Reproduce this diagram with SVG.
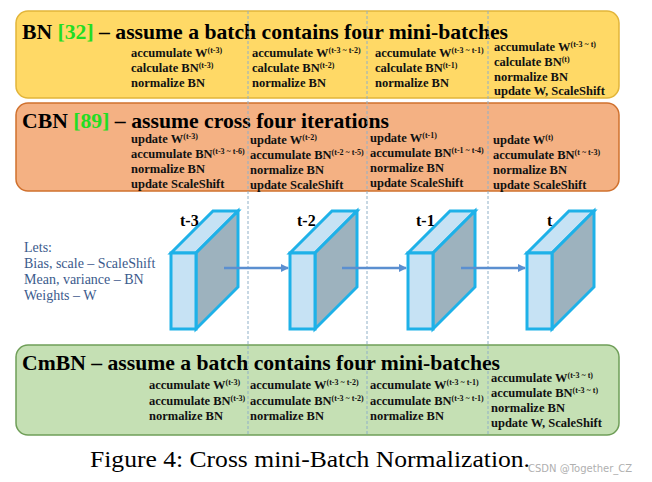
<svg xmlns="http://www.w3.org/2000/svg" width="652" height="482" viewBox="0 0 652 482">
<defs>
<style>
.t{font-family:"Liberation Serif",serif;font-weight:bold;font-size:22px;fill:#000}
.g{fill:#22dd22}
.c{font-family:"Liberation Serif",serif;font-weight:bold;font-size:12.5px;fill:#111}
.s{font-size:8px}
.l{font-family:"Liberation Serif",serif;font-size:14px;fill:#3b5a8c}
.f{fill:#c6e2f4;stroke:#1eb1e8;stroke-width:3;stroke-linejoin:miter}
.sd{fill:#9db2be;stroke:#1eb1e8;stroke-width:3}
.dl{stroke:#8fb0c8;stroke-width:1;stroke-dasharray:3,2}
.ar{stroke:#5b8fd0;stroke-width:2.5}
.lab{font-family:"Liberation Serif",serif;font-weight:bold;font-size:16px}
</style>
<marker id="ah" markerWidth="8" markerHeight="8" refX="7" refY="4" orient="auto" markerUnits="userSpaceOnUse"><path d="M0,0 L8,4 L0,8 z" fill="#5b8fd0"/></marker>
</defs>
<rect width="652" height="482" fill="#fff"/>
<g id="bn">
<rect x="16" y="11" width="603" height="87" rx="12" fill="#ffd966" stroke="#e2b53a" stroke-width="1.5"/>
<text class="t" x="22" y="39" textLength="486" lengthAdjust="spacingAndGlyphs">BN <tspan class="g">[32]</tspan> – assume a batch contains four mini-batches</text>
<text class="c" x="131" y="57">accumulate W<tspan class="s" dy="-4">(t-3)</tspan></text>
<text class="c" x="131" y="72">calculate BN<tspan class="s" dy="-4">(t-3)</tspan></text>
<text class="c" x="131" y="87">normalize BN</text>
<text class="c" x="252" y="57">accumulate W<tspan class="s" dy="-4">(t-3 ~ t-2)</tspan></text>
<text class="c" x="252" y="72">calculate BN<tspan class="s" dy="-4">(t-2)</tspan></text>
<text class="c" x="252" y="87">normalize BN</text>
<text class="c" x="375" y="57">accumulate W<tspan class="s" dy="-4">(t-3 ~ t-1)</tspan></text>
<text class="c" x="375" y="72">calculate BN<tspan class="s" dy="-4">(t-1)</tspan></text>
<text class="c" x="375" y="87">normalize BN</text>
<text class="c" x="494" y="51">accumulate W<tspan class="s" dy="-4">(t-3 ~ t)</tspan></text>
<text class="c" x="494" y="66">calculate BN<tspan class="s" dy="-4">(t)</tspan></text>
<text class="c" x="494" y="81">normalize BN</text>
<text class="c" x="494" y="95">update W, ScaleShift</text>
</g>
<g id="cbn">
<rect x="16" y="103" width="603" height="88" rx="12" fill="#f4b183" stroke="#d0712e" stroke-width="1.5"/>
<text class="t" x="22" y="128" textLength="367" lengthAdjust="spacingAndGlyphs">CBN <tspan class="g">[89]</tspan> – assume cross four iterations</text>
<text class="c" x="131" y="143">update W<tspan class="s" dy="-4">(t-3)</tspan></text>
<text class="c" x="131" y="158">accumulate BN<tspan class="s" dy="-4">(t-3 ~ t-6)</tspan></text>
<text class="c" x="131" y="173">normalize BN</text>
<text class="c" x="131" y="188">update ScaleShift</text>
<text class="c" x="250" y="144">update W<tspan class="s" dy="-4">(t-2)</tspan></text>
<text class="c" x="250" y="159">accumulate BN<tspan class="s" dy="-4">(t-2 ~ t-5)</tspan></text>
<text class="c" x="250" y="174">normalize BN</text>
<text class="c" x="250" y="189">update ScaleShift</text>
<text class="c" x="370" y="142">update W<tspan class="s" dy="-4">(t-1)</tspan></text>
<text class="c" x="370" y="157">accumulate BN<tspan class="s" dy="-4">(t-1 ~ t-4)</tspan></text>
<text class="c" x="370" y="172">normalize BN</text>
<text class="c" x="370" y="187">update ScaleShift</text>
<text class="c" x="493" y="144">update W<tspan class="s" dy="-4">(t)</tspan></text>
<text class="c" x="493" y="159">accumulate BN<tspan class="s" dy="-4">(t ~ t-3)</tspan></text>
<text class="c" x="493" y="174">normalize BN</text>
<text class="c" x="493" y="189">update ScaleShift</text>
</g>
<g id="cmbn">
<rect x="16" y="345" width="603" height="90" rx="12" fill="#c5e0b4" stroke="#6f9e58" stroke-width="1.5"/>
<text class="t" x="22" y="370" textLength="478" lengthAdjust="spacingAndGlyphs">CmBN – assume a batch contains four mini-batches</text>
<text class="c" x="149" y="389">accumulate W<tspan class="s" dy="-4">(t-3)</tspan></text>
<text class="c" x="149" y="405">accumulate BN<tspan class="s" dy="-4">(t-3)</tspan></text>
<text class="c" x="149" y="420">normalize BN</text>
<text class="c" x="250" y="389">accumulate W<tspan class="s" dy="-4">(t-3 ~ t-2)</tspan></text>
<text class="c" x="250" y="405">accumulate BN<tspan class="s" dy="-4">(t-3 ~ t-2)</tspan></text>
<text class="c" x="250" y="420">normalize BN</text>
<text class="c" x="370" y="389">accumulate W<tspan class="s" dy="-4">(t-3 ~ t-1)</tspan></text>
<text class="c" x="370" y="405">accumulate BN<tspan class="s" dy="-4">(t-3 ~ t-1)</tspan></text>
<text class="c" x="370" y="420">normalize BN</text>
<text class="c" x="491" y="382">accumulate W<tspan class="s" dy="-4">(t-3 ~ t)</tspan></text>
<text class="c" x="491" y="397">accumulate BN<tspan class="s" dy="-4">(t-3 ~ t)</tspan></text>
<text class="c" x="491" y="412">normalize BN</text>
<text class="c" x="491" y="427">update W, ScaleShift</text>
</g>
<g id="dividers">
<line class="dl" x1="248" y1="11" x2="248" y2="435"/>
<line class="dl" x1="367" y1="11" x2="367" y2="435"/>
<line class="dl" x1="488" y1="11" x2="488" y2="435"/>
</g>
<g id="lets">
<text class="l" x="24" y="252">Lets:</text>
<text class="l" x="24" y="268">Bias, scale – ScaleShift</text>
<text class="l" x="24" y="284">Mean, variance – BN</text>
<text class="l" x="24" y="300">Weights – W</text>
</g>
<g id="cube-t3" transform="translate(171,0)">
<polygon class="f" points="0,253 42,211 67,211 25,253"/>
<polygon class="sd" points="25,253 67,211 67,287 25,329"/>
<rect class="f" x="0" y="253" width="25" height="76"/>
<text class="lab" x="9" y="226">t-3</text>
</g>
<g id="cube-t2" transform="translate(290,0)">
<polygon class="f" points="0,253 42,211 67,211 25,253"/>
<polygon class="sd" points="25,253 67,211 67,287 25,329"/>
<rect class="f" x="0" y="253" width="25" height="76"/>
<text class="lab" x="7" y="226">t-2</text>
</g>
<g id="cube-t1" transform="translate(408,0)">
<polygon class="f" points="0,253 42,211 67,211 25,253"/>
<polygon class="sd" points="25,253 67,211 67,287 25,329"/>
<rect class="f" x="0" y="253" width="25" height="76"/>
<text class="lab" x="8" y="226">t-1</text>
</g>
<g id="cube-t" transform="translate(527,0)">
<polygon class="f" points="0,253 42,211 67,211 25,253"/>
<polygon class="sd" points="25,253 67,211 67,287 25,329"/>
<rect class="f" x="0" y="253" width="25" height="76"/>
<text class="lab" x="20" y="226">t</text>
</g>
<g id="connectors">
<line class="ar" x1="224" y1="268" x2="288" y2="268" marker-end="url(#ah)"/>
<line class="ar" x1="342" y1="268" x2="406" y2="268" marker-end="url(#ah)"/>
<line class="ar" x1="461" y1="268" x2="525" y2="268" marker-end="url(#ah)"/>
</g>
<text x="90" y="467" textLength="440" lengthAdjust="spacingAndGlyphs" font-family="Liberation Serif,serif" font-size="24">Figure 4: Cross mini-Batch Normalization.</text>
<text x="528" y="472" font-family="DejaVu Sans,sans-serif" font-size="10" fill="#b0b0b0">CSDN @Together_CZ</text>
</svg>
